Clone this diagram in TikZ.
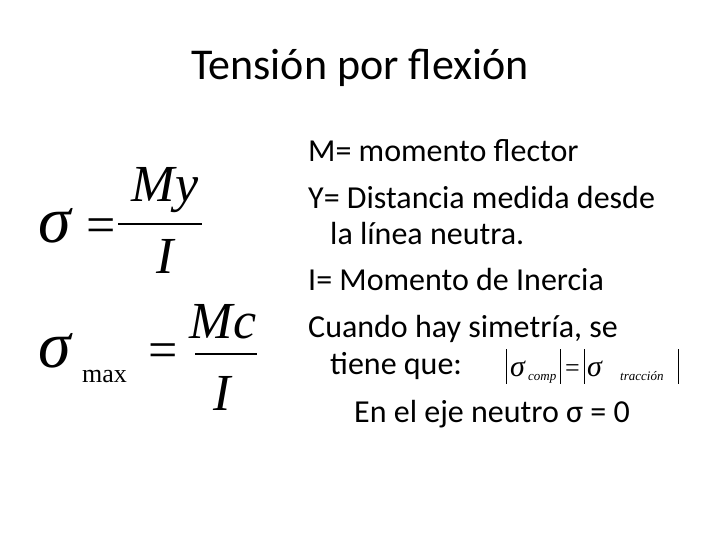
\documentclass[tikz,border=0pt]{standalone}
\usepackage{fontspec}
\setmainfont{Carlito}
\newfontfamily\tms{Liberation Serif}
\begin{document}
\begin{tikzpicture}[x=1pt,y=-1pt,
  body/.style={anchor=base west,inner sep=0pt,font=\fontsize{32}{36}\selectfont},
  fm/.style={inner sep=0pt,font=\tms\fontsize{52}{56}\selectfont},
  fi/.style={inner sep=0pt,font=\tms\itshape\fontsize{52}{56}\selectfont},
  sg/.style={inner sep=0pt,font=\tms\itshape\fontsize{66}{70}\selectfont}]
\useasboundingbox (0,0) rectangle (720,540);
\node[inner sep=0pt,anchor=base,font=\fontsize{44}{50}\selectfont] (title) at (360,80) {Tensión por flexión};
% formula 1
\node[sg,anchor=base west] (s1) at (38,243) {σ};
\node[fm,anchor=base west] (eq1) at (86,243) {=};
\node[fi,anchor=base] (n1) at (165,202) {My};
\node[fi,anchor=base] (d1) at (165,273) {I};
\draw[line width=2pt] (118,224) -- (202,224);
% formula 2
\node[sg,anchor=base west] (s2) at (38,367) {σ};
\node[inner sep=0pt,anchor=base west,font=\tms\fontsize{26}{30}\selectfont] (mx) at (82,382) {max};
\node[fm,anchor=base west] (eq2) at (148,367) {=};
\node[fi,anchor=base] (n2) at (223,338) {Mc};
\node[fi,anchor=base] (d2) at (222,410) {I};
\draw[line width=2pt] (195,354) -- (257,354);
% text
\node[body] (t1) at (308,162) {M= momento flector};
\node[body] (t2) at (308,208) {Y= Distancia medida desde};
\node[body] (t3) at (330,244) {la línea neutra.};
\node[body] (t4) at (308,290) {I= Momento de Inercia};
\node[body] (t5) at (308,337) {Cuando hay simetría, se};
\node[body] (t6) at (330,374) {tiene que:};
\node[body] (t7) at (354,422) {En el eje neutro σ = 0};
% abs formula
\draw[line width=1pt] (506,349)--(506,384) (560,349)--(560,384) (584,349)--(584,384) (678,349)--(678,384);
\node[inner sep=0pt,anchor=base west,font=\tms\itshape\fontsize{30}{32}\selectfont] (a1) at (510,376) {σ};
\node[inner sep=0pt,anchor=base west,font=\tms\itshape\fontsize{13}{14}\selectfont] (a2) at (528,380) {comp};
\node[inner sep=0pt,anchor=base west,font=\tms\fontsize{26}{28}\selectfont] (a3) at (565,376) {=};
\node[inner sep=0pt,anchor=base west,font=\tms\itshape\fontsize{30}{32}\selectfont] (a4) at (587,376) {σ};
\node[inner sep=0pt,anchor=base west,font=\tms\itshape\fontsize{13}{14}\selectfont] (a5) at (620,380) {tracción};
\end{tikzpicture}
\end{document}
